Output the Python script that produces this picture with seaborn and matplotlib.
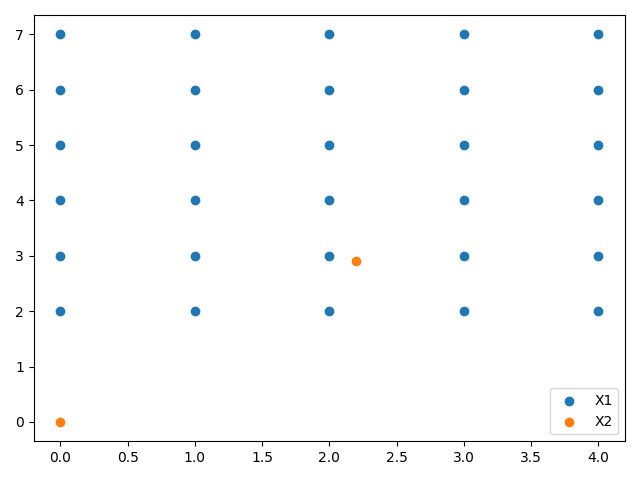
import matplotlib
matplotlib.use("Agg")
import matplotlib.pyplot as plt
import seaborn as sns
import pandas as pd

x1_x = [0, 1, 2, 3, 4]
x1_y = [2, 3, 4, 5, 6, 7]
x2_x = [0.0, 2.2]
x2_y = [0.0, 2.9]

rows = [(x, y) for x in x1_x for y in x1_y]
df1 = pd.DataFrame(rows, columns=["x", "y"])
df2 = pd.DataFrame({"x": x2_x, "y": x2_y})

fig, ax = plt.subplots(figsize=(6.4, 4.8), dpi=100)
sns.scatterplot(data=df1, x="x", y="y", ax=ax, color="#1f77b4", s=36,
                linewidth=1, edgecolor="face", label="X1")
sns.scatterplot(data=df2, x="x", y="y", ax=ax, color="#ff7f0e", s=36,
                linewidth=1, edgecolor="face", label="X2")
ax.set_xlabel("")
ax.set_ylabel("")
ax.legend(loc="lower right")
fig.tight_layout()
fig.savefig("out.png", dpi=100)
